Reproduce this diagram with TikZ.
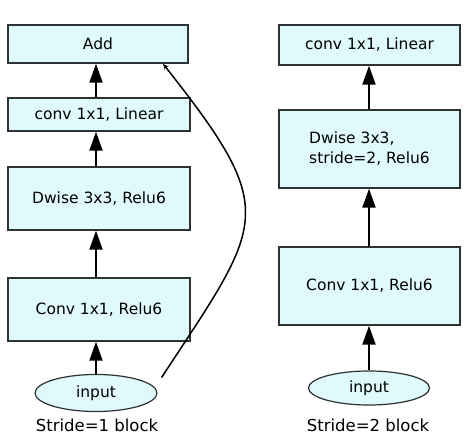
\documentclass[tikz,border=0pt]{standalone}
\usepackage{fontspec}
\setmainfont{DejaVu Sans}
\usetikzlibrary{arrows.meta,shapes.geometric}
\definecolor{boxfill}{RGB}{224,250,252}
\definecolor{boxline}{RGB}{45,50,50}
\tikzset{
  blk/.style={draw=boxline, line width=1.4pt, fill=boxfill, rectangle, inner sep=0pt,
    font=\fontsize{15.5}{20}\selectfont},
  inp/.style={draw=boxline, line width=1.2pt, fill=boxfill, ellipse, inner sep=0pt,
    font=\fontsize{15.5}{20}\selectfont},
  blocklabel/.style={font=\fontsize{16.5}{20}\selectfont, inner sep=0pt},
  arr/.style={line width=2pt, -{Triangle[width=13pt,length=19pt]}},
  skipconn/.style={line width=1.5pt, -{Stealth[width=5pt,length=6pt]}}
}
\begin{document}
\begin{tikzpicture}[x=1pt,y=-1pt]
\useasboundingbox (0,0) rectangle (474,441);
% left column
\node[blk, minimum width=180pt, minimum height=38pt] (add) at (98,44) {Add};
\node[blk, minimum width=182pt, minimum height=33pt] (lin1) at (99,114.5) {conv 1x1, Linear};
\node[blk, minimum width=182pt, minimum height=63pt] (dw1) at (99,198.5) {Dwise 3x3, Relu6};
\node[blk, minimum width=182pt, minimum height=63pt] (cv1) at (99,309.5) {Conv 1x1, Relu6};
\node[inp, minimum width=122pt, minimum height=37pt] (in1) at (96,393) {input};
\node[blocklabel] (s1) at (97,425) {Stride=1 block};
% right column
\node[blk, minimum width=181pt, minimum height=40pt] (lin2) at (369.5,45) {conv 1x1, Linear};
\node[blk, minimum width=181pt, minimum height=78pt, align=left] (dw2) at (369.5,149) {Dwise 3x3,\\stride=2, Relu6};
\node[blk, minimum width=181pt, minimum height=78pt] (cv2) at (369.5,286) {Conv 1x1, Relu6};
\node[inp, minimum width=121pt, minimum height=34pt] (in2) at (369,388) {input};
\node[blocklabel] (s2) at (368,425) {Stride=2 block};
% left arrows
\draw[arr] (in1.north) -- (in1.north |- cv1.south);
\draw[arr] (cv1.north -| in1.north) -- (in1.north |- dw1.south);
\draw[arr] (dw1.north -| in1.north) -- (in1.north |- lin1.south);
\draw[arr] (lin1.north -| in1.north) -- (in1.north |- add.south);
% skip connection
\draw[skipconn] ([xshift=12pt,yshift=6pt]in1.10) .. controls (264.5,220.3) and (280.8,213.1) .. ([xshift=65pt]add.south);
% right arrows
\draw[arr] (in2.north) -- (in2.north |- cv2.south);
\draw[arr] (cv2.north -| in2.north) -- (in2.north |- dw2.south);
\draw[arr] (dw2.north -| in2.north) -- (in2.north |- lin2.south);
\end{tikzpicture}
\end{document}
